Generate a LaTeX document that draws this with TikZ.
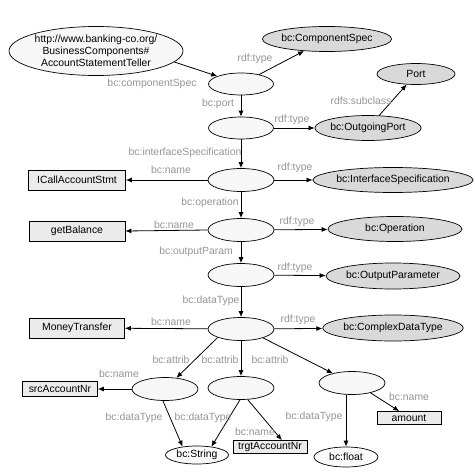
\documentclass[tikz,border=0pt]{standalone}
\usepackage{fontspec}
\setmainfont{Liberation Sans}
\usetikzlibrary{shapes.geometric,arrows.meta}
\begin{document}
\begin{tikzpicture}[x=1pt,y=-1pt,
  font=\fontsize{10.4}{12}\selectfont,
  blank/.style={ellipse,draw,fill=black!3,minimum width=66pt,minimum height=23pt,inner sep=0pt,line width=0.7pt},
  cls/.style={ellipse,draw,fill=black!15,inner sep=0pt,line width=0.7pt},
  lit/.style={rectangle,draw,fill=black!8,inner sep=0pt,line width=0.7pt},
  lbl/.style={text=black!42,inner sep=0pt},
  arr/.style={-{Latex[length=6pt,width=5pt]},line width=0.8pt}]
\useasboundingbox (0,0) rectangle (474,476);
% nodes
\node[ellipse,draw,fill=black!3,minimum width=174pt,minimum height=49pt,inner sep=0pt,align=center,line width=0.7pt] (url) at (96,51) {http://www.banking-co.org/\\BusinessComponents\#\\AccountStatementTeller};
\node[blank,minimum width=65pt,minimum height=22pt] (b1) at (241,84) {};
\node[cls,minimum width=108pt,minimum height=25pt] (cs) at (327,39) {bc:ComponentSpec};
\node[blank,minimum width=65pt,minimum height=22pt] (b2) at (241,128) {};
\node[cls,minimum width=78pt,minimum height=21pt] (port) at (416,74) {Port};
\node[cls,minimum width=97pt,minimum height=25pt] (op) at (368,128) {bc:OutgoingPort};
\node[blank] (b3) at (241,180) {};
\node[lit,minimum width=97pt,minimum height=20pt] (ica) at (77,180) {ICallAccountStmt};
\node[cls,minimum width=134pt,minimum height=25pt] (is) at (393,180) {bc:InterfaceSpecification};
\node[blank] (b4) at (241,230) {};
\node[lit,minimum width=96pt,minimum height=20pt] (gb) at (77,231) {getBalance};
\node[cls,minimum width=134pt,minimum height=25pt] (oper) at (395,229) {bc:Operation};
\node[blank] (b5) at (241,275) {};
\node[cls,minimum width=134pt,minimum height=26pt] (outp) at (393,276) {bc:OutputParameter};
\node[blank] (b6) at (241,329) {};
\node[lit,minimum width=95pt,minimum height=20pt] (mt) at (77,328) {MoneyTransfer};
\node[cls,minimum width=134pt,minimum height=26pt] (cdt) at (393,328) {bc:ComplexDataType};
\node[blank] (b7) at (165,389) {};
\node[lit,minimum width=75pt,minimum height=15pt] (src) at (60,389) {srcAccountNr};
\node[blank] (b8) at (241,388) {};
\node[blank] (b9) at (352,383) {};
\node[lit,minimum width=64pt,minimum height=13pt] (amt) at (409,418) {amount};
\node[ellipse,draw,fill=black!2,minimum width=64pt,minimum height=20pt,inner sep=0pt,line width=0.7pt] (flt) at (346,457) {bc:float};
\node[lit,minimum width=74pt,minimum height=13pt] (trg) at (270,447) {trgtAccountNr};
\node[ellipse,draw,fill=black!2,minimum width=63pt,minimum height=18pt,inner sep=0pt,line width=0.7pt] (str) at (197,455) {bc:String};
% edges
\draw[arr] (url.-8) -- (b1);
\draw[arr] (b1) -- (cs);
\draw[arr] (b1) -- (b2);
\draw[arr] (b2) -- (op);
\draw[arr] (op) -- (port);
\draw[arr] (b2) -- (b3);
\draw[arr] (b3) -- (ica);
\draw[arr] (b3) -- (is);
\draw[arr] (b3) -- (b4);
\draw[arr] (b4.west) -- (gb.east);
\draw[arr] (b4) -- (oper);
\draw[arr] (b4) -- (b5);
\draw[arr] (b5) -- (outp);
\draw[arr] (b5) -- (b6);
\draw[arr] (b6) -- (mt);
\draw[arr] (b6) -- (cdt);
\draw[arr] (b6.200) -- (b7);
\draw[arr] (b6) -- (b8);
\draw[arr] (b6.-22) -- (b9);
\draw[arr] (b7) -- (src);
\draw[arr] (b7.-100) -- (str.150);
\draw[arr] (b8.-95) -- (str.30);
\draw[arr] (b8.-60) -- (trg.30);
\draw[arr] (b9.south -| flt.north) -- (flt.north);
\draw[arr] (b9.-28) -- (amt.145);
% labels
\node[lbl] (l1) at (255,59) {rdf:type};
\node[lbl] (l2) at (152,84) {bc:componentSpec};
\node[lbl] (l3) at (218,104) {bc:port};
\node[lbl] (l4) at (361,101) {rdfs:subclass};
\node[lbl] (l5) at (292,120) {rdf:type};
\node[lbl] (l6) at (185,153) {bc:interfaceSpecification};
\node[lbl] (l7) at (171,170) {bc:name};
\node[lbl] (l8) at (295,168) {rdf:type};
\node[lbl] (l9) at (210,203) {bc:operation};
\node[lbl] (l10) at (174,225) {bc:name};
\node[lbl] (l11) at (297,222) {rdf:type};
\node[lbl] (l12) at (196,252) {bc:outputParam};
\node[lbl] (l13) at (295,268) {rdf:type};
\node[lbl] (l14) at (211,301) {bc:dataType};
\node[lbl] (l15) at (171,322) {bc:name};
\node[lbl] (l16) at (298,320) {rdf:type};
\node[lbl] (l17) at (171,360) {bc:attrib};
\node[lbl] (l18) at (220,360) {bc:attrib};
\node[lbl] (l19) at (270,360) {bc:attrib};
\node[lbl] (l20) at (119,374) {bc:name};
\node[lbl] (l21) at (134,418) {bc:dataType};
\node[lbl] (l22) at (203,418) {bc:dataType};
\node[lbl] (l23) at (255,432) {bc:name};
\node[lbl] (l24) at (314,417) {bc:dataType};
\node[lbl] (l25) at (409,397) {bc:name};
\end{tikzpicture}
\end{document}
